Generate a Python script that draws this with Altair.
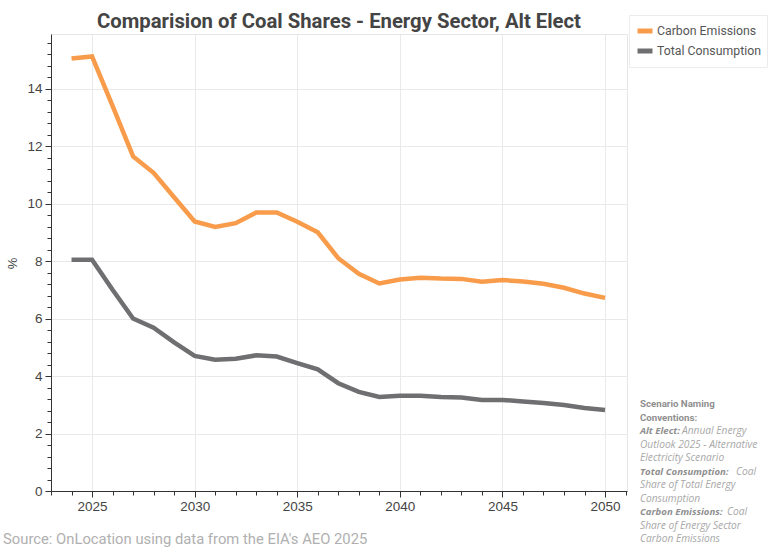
import altair as alt
import pandas as pd

# Coal shares (%) by year, Alt Elect scenario
years = list(range(2024, 2051))
carbon_emissions = [15.05, 15.12, 13.4, 11.64, 11.07, 10.22, 9.38, 9.19, 9.32, 9.69,
                    9.69, 9.37, 9.0, 8.1, 7.56, 7.22, 7.36, 7.42, 7.39, 7.38,
                    7.28, 7.34, 7.29, 7.21, 7.07, 6.87, 6.72]
total_consumption = [8.05, 8.05, 7.0, 6.0, 5.68, 5.17, 4.7, 4.57, 4.6, 4.72,
                     4.68, 4.45, 4.23, 3.75, 3.45, 3.27, 3.31, 3.31, 3.27, 3.25,
                     3.17, 3.17, 3.11, 3.06, 2.99, 2.89, 2.82]
series_names = ["Carbon Emissions", "Total Consumption"]
series_colors = ["#f89c4b", "#6f6f71"]

x_major = [2025, 2030, 2035, 2040, 2045, 2050]
x_minor = [y for y in range(2023, 2052) if y % 5 != 0]
y_major = [0, 2, 4, 6, 8, 10, 12, 14]
y_minor = [round(i * 0.4, 1) for i in range(0, 40) if i % 5 != 0]

df = pd.concat([
    pd.DataFrame({"year": years, "share": carbon_emissions, "series": series_names[0]}),
    pd.DataFrame({"year": years, "share": total_consumption, "series": series_names[1]}),
])

W, H = 576, 457
SANS = "Roboto"
NOTE_FONT = "Open Sans"
TICK_FONT = "Liberation Sans"

x_scale = alt.Scale(domain=[2023, 2051.07], nice=False, zero=False)
y_scale = alt.Scale(domain=[0, 15.9], nice=False, zero=False)

lines = alt.Chart(df).mark_line(strokeWidth=4.5, strokeJoin="miter").encode(
    x=alt.X("year:Q", scale=x_scale,
            axis=alt.Axis(values=x_major, format="d", title=None, orient="bottom",
                          tickSize=6, labelPadding=2, grid=True)),
    y=alt.Y("share:Q", scale=y_scale,
            axis=alt.Axis(values=y_major, title="%", orient="left", tickSize=6,
                          labelPadding=3, grid=True, titleX=-39, titleY=229,
                          titleAlign="center", titleBaseline="middle", titleAngle=-90)),
    color=alt.Color("series:N",
                    scale=alt.Scale(domain=series_names, range=series_colors),
                    sort=series_names,
                    legend=alt.Legend(orient="none", legendX=578, legendY=-19, title=None,
                                      symbolType="stroke", symbolStrokeWidth=5,
                                      symbolSize=225, labelFont=SANS, labelFontSize=12.3,
                                      labelColor="#555555", padding=6, rowPadding=0,
                                      strokeColor="#ececec", labelOffset=2)),
)

# minor ticks on both axes
minor = alt.Chart(df).mark_line(opacity=0).encode(
    x=alt.X("year:Q", scale=x_scale,
            axis=alt.Axis(values=x_minor, labels=False, grid=False, domain=False,
                          tickSize=4, orient="bottom", title=None)),
    y=alt.Y("share:Q", scale=y_scale,
            axis=alt.Axis(values=y_minor, labels=False, grid=False, domain=False,
                          tickSize=4, orient="left", title=None)),
)

dummy = alt.Data(values=[{}])


def label(text, x, y, size=9.5, weight="normal", style="normal", color="#a6a6a6",
          align="left", font=NOTE_FONT, baseline="middle"):
    return alt.Chart(dummy).mark_text(
        text=text, align=align, baseline=baseline, fontSize=size, fontWeight=weight,
        fontStyle=style, color=color, font=font,
    ).encode(x=alt.value(x - 51), y=alt.value(y - 34))


note_x = 640
note_y0 = 404
note_dy = 13.5
BOLD_C = "#8f8f8f"
IT_C = "#a8a8a8"
# (weight, style, colour, font, size)
HEAD = ("bold", "normal", BOLD_C, SANS, 9.7)
KEY = ("bold", "italic", BOLD_C, NOTE_FONT, 9.6)
DESC = ("normal", "italic", IT_C, NOTE_FONT, 10.2)
note_lines = [
    [("Scenario Naming", note_x, HEAD)],
    [("Conventions:", note_x, HEAD)],
    [("Alt Elect:", note_x, KEY), ("Annual Energy", 682, DESC)],
    [("Outlook 2025 - Alternative", note_x, DESC)],
    [("Electricity Scenario", note_x, DESC)],
    [("Total Consumption:", note_x, KEY), ("Coal", 736, DESC)],
    [("Share of Total Energy", note_x, DESC)],
    [("Consumption", note_x, DESC)],
    [("Carbon Emissions:", note_x, KEY), ("Coal", 727, DESC)],
    [("Share of Energy Sector", note_x, DESC)],
    [("Carbon Emissions", note_x, DESC)],
]
notes = []
for i, segs in enumerate(note_lines):
    for text, x, (weight, style, color, font, size) in segs:
        notes.append(label(text, x, note_y0 + i * note_dy, size=size, weight=weight,
                           style=style, color=color, font=font))

source = label("Source: OnLocation using data from the EIA's AEO 2025", 3, 540, size=14.8,
               color="#b0b0b0", font=SANS)

title = label("Comparision of Coal Shares - Energy Sector, Alt Elect", 339, 28, size=20.3,
              weight="bold", color="#444444", align="center", font=SANS,
              baseline="alphabetic")

chart = alt.layer(lines, minor, *notes, source, title).resolve_axis(
    x="independent", y="independent"
).properties(
    width=W, height=H,
    background="white",
    autosize=alt.AutoSizeParams(type="none"),
    padding={"left": 51, "top": 34, "right": 141, "bottom": 62},
).configure_view(
    stroke="#e6e6e6"
).configure_axis(
    domainColor="#333333", tickColor="#333333", labelColor="#444444",
    labelFont=TICK_FONT, labelFontSize=13.5, titleFont=TICK_FONT, titleFontSize=13,
    titleColor="#444444", titleFontWeight="normal", gridColor="#e9e9e9", gridWidth=1,
)

chart.save("out.html", embed_options={"renderer": "svg", "actions": False})
